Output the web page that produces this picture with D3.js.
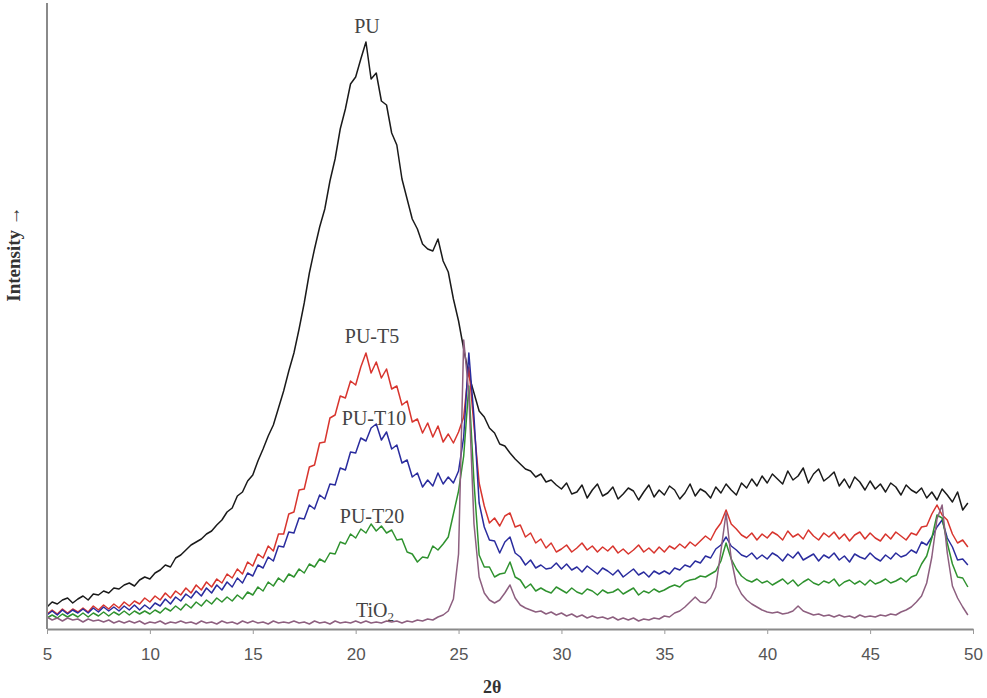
<!DOCTYPE html>
<html>
<head>
<meta charset="utf-8">
<script src="https://cdn.jsdelivr.net/npm/d3@7"></script>
<style>
  html, body { margin: 0; padding: 0; background: #fff; }
  svg { display: block; }
</style>
</head>
<body>
<svg id="chart" width="987" height="698"></svg>
<script>
// =========================
// DATA (XRD, 2θ from 5° in 0.25° steps)
// =========================

const thetaStart = 5;
const thetaStep = 0.25;
const xTicks = [5, 10, 15, 20, 25, 30, 35, 40, 45, 50];

const seriesNames = ["PU", "PU-T5", "PU-T10", "PU-T20", "TiO2"];

const puValues = [22,27,25,29,31,26,30,33,29,35,
  34,38,36,41,40,44,46,43,49,52,
  50,56,59,64,62,71,74,79,84,87,
  90,95,98,104,109,117,121,133,137,148,
  154,168,180,193,204,221,238,258,276,300,
  326,356,380,402,420,448,470,500,520,545,
  552,570,587,550,556,528,524,496,484,450,
  430,410,400,385,380,378,390,368,357,330,
  308,280,254,236,218,212,201,196,185,183,
  176,170,165,160,158,152,155,147,149,144,
  140,146,135,137,144,131,139,145,133,136,
  142,130,135,141,138,129,137,144,132,139,
  134,143,139,130,136,145,133,140,137,131,
  142,136,145,139,134,146,141,150,143,153,
  146,155,150,145,158,149,153,161,146,155,
  160,148,152,157,143,150,141,152,147,139,
  148,140,145,137,146,142,134,144,139,136,
  141,131,137,129,140,134,127,137,119,126];

const puT5Values = [15,19,15,20,16,20,17,21,17,23,
  19,24,20,25,21,27,23,28,25,31,
  27,33,29,36,31,38,34,41,36,44,
  39,47,42,50,46,55,51,60,55,67,
  63,75,71,83,78,95,95,115,117,139,
  140,162,164,186,187,211,214,233,231,248,
  244,262,276,256,267,251,260,240,243,224,
  228,207,210,196,206,192,203,187,195,186,
  197,212,262,203,146,123,106,111,103,113,
  116,102,104,92,96,86,90,81,86,77,
  80,84,77,81,86,79,83,77,82,78,
  83,76,80,75,79,84,77,81,76,82,
  77,83,80,85,81,87,83,88,93,89,
  99,106,119,105,100,94,91,96,89,95,
  91,97,94,89,98,92,95,90,99,93,
  89,96,92,97,90,95,88,94,97,90,
  96,91,88,95,90,97,93,89,96,94,
  102,103,115,124,114,109,95,86,89,82];

const puT10Values = [14,18,14,19,15,19,16,20,16,21,
  17,22,18,22,18,23,19,24,19,24,
  20,26,23,30,25,32,28,35,31,38,
  33,41,36,44,39,47,42,51,46,56,
  53,64,61,72,68,83,82,97,96,111,
  110,124,120,134,130,145,144,161,159,177,
  176,191,188,201,205,189,197,180,184,166,
  169,152,156,142,149,143,156,145,152,146,
  158,192,276,212,126,102,89,88,76,87,
  92,76,72,64,69,61,64,60,61,66,
  60,65,59,62,57,63,59,55,61,58,
  54,59,52,56,60,54,57,52,58,55,
  58,55,61,59,64,62,68,66,73,71,
  80,84,92,83,79,74,72,76,70,74,
  70,76,73,68,75,71,77,69,72,75,
  68,74,71,76,69,73,67,75,72,70,
  76,71,68,74,70,76,72,74,79,76,
  87,84,92,102,109,91,82,69,70,64];

const puT20Values = [11,14,11,15,12,15,12,16,12,16,
  13,17,13,17,14,18,14,18,15,18,
  15,19,16,21,18,23,19,25,21,27,
  23,29,25,31,27,32,28,34,30,37,
  34,42,38,47,43,51,47,55,52,60,
  56,65,62,70,67,76,75,87,85,95,
  91,100,96,105,98,103,96,99,89,90,
  77,75,67,72,71,83,79,85,92,115,
  138,173,243,147,74,62,62,52,55,56,
  67,52,49,41,45,38,41,38,36,42,
  39,36,41,37,35,40,38,34,39,36,
  37,40,35,38,41,34,38,36,40,37,
  39,42,44,42,47,49,50,53,52,55,
  58,68,86,70,60,53,49,47,50,46,
  48,44,47,50,45,49,43,47,50,46,
  44,48,46,50,43,47,49,45,48,44,
  49,45,47,50,46,48,51,47,52,54,
  65,73,91,114,111,86,65,52,51,42];

const tio2Values = [12,9,11,8,11,9,10,7,10,8,
  9,7,9,6,8,6,8,6,8,5,
  7,6,8,5,7,6,8,6,7,5,
  8,6,7,5,8,6,7,5,8,6,
  8,6,7,5,8,6,7,6,8,6,
  7,5,8,6,7,5,8,6,7,6,
  8,6,8,6,7,6,8,7,8,6,
  8,7,9,8,10,9,12,14,18,30,
  75,289,235,105,52,36,29,26,29,36,
  44,31,24,21,19,17,18,15,17,14,
  16,13,15,12,14,11,13,11,12,10,
  12,9,11,9,11,8,10,9,11,10,
  13,12,16,18,22,27,32,27,26,31,
  42,78,116,70,45,35,29,25,22,19,
  17,16,17,15,16,18,23,18,16,14,
  15,13,14,12,14,12,13,11,14,12,
  13,12,14,13,15,14,17,19,22,27,
  33,46,72,110,124,76,43,31,22,14];

// =========================
// SETUP
// =========================

const svg = d3.select("#chart");

const x = d3.scaleLinear().domain([5, 50]).range([47, 973]);
const y = d3.scaleLinear().domain([0, 626]).range([629, 3]);

const series = [
  { name: "PU", values: puValues, color: "#1a1a1a" },
  { name: "PU-T5", values: puT5Values, color: "#d8352e" },
  { name: "PU-T10", values: puT10Values, color: "#2a2c9e" },
  { name: "PU-T20", values: puT20Values, color: "#2f922f" },
  { name: "TiO2", values: tio2Values, color: "#8d5f7f" }
];

const line = d3.line()
  .x((d, i) => x(thetaStart + i * thetaStep))
  .y(d => y(d));

// =========================
// CURVES
// =========================

svg.append("g")
  .selectAll("path")
  .data(series)
  .enter()
  .append("path")
  .attr("d", d => line(d.values))
  .attr("fill", "none")
  .attr("stroke", d => d.color)
  .attr("stroke-width", 1.5)
  .attr("stroke-linejoin", "round");

// =========================
// AXES
// =========================

const xAxis = d3.axisBottom(x)
  .tickValues(xTicks)
  .tickSize(5)
  .tickPadding(14)
  .tickSizeOuter(0);

const gx = svg.append("g")
  .attr("transform", `translate(0, ${y(0)})`)
  .call(xAxis);

gx.select(".domain").attr("stroke", "#8a8a8a").attr("stroke-width", 2);
gx.selectAll(".tick line").attr("stroke", "#9a9a9a");
gx.selectAll(".tick text")
  .style("font-family", "'Liberation Sans', Arial, sans-serif")
  .style("font-size", "17px")
  .style("fill", "#555");

svg.append("line")
  .attr("x1", x(5)).attr("x2", x(5))
  .attr("y1", y(626)).attr("y2", y(0))
  .attr("stroke", "#8a8a8a")
  .attr("stroke-width", 2);

// axis titles
svg.append("text")
  .attr("x", 483)
  .attr("y", 693)
  .text("2θ")
  .style("font-family", "'Liberation Serif', 'Times New Roman', serif")
  .style("font-size", "18px")
  .style("font-weight", "bold")
  .style("fill", "#333");

svg.append("text")
  .attr("transform", "translate(20, 254) rotate(-90)")
  .attr("text-anchor", "middle")
  .text("Intensity →")
  .style("font-family", "'Liberation Serif', 'Times New Roman', serif")
  .style("font-size", "19px")
  .style("font-weight", "bold")
  .style("fill", "#333");

// =========================
// CURVE LABELS
// =========================

const labels = [
  { text: "PU", x: 367, y: 33 },
  { text: "PU-T5", x: 372, y: 343 },
  { text: "PU-T10", x: 374, y: 425 },
  { text: "PU-T20", x: 372, y: 523 }
];

svg.selectAll(".curve-label")
  .data(labels)
  .enter()
  .append("text")
  .attr("class", "curve-label")
  .attr("x", d => d.x)
  .attr("y", d => d.y)
  .attr("text-anchor", "middle")
  .text(d => d.text)
  .style("font-family", "'Liberation Serif', 'Times New Roman', serif")
  .style("font-size", "20px")
  .style("fill", "#444");

const tio2Label = svg.append("text")
  .attr("x", 356)
  .attr("y", 617)
  .style("font-family", "'Liberation Serif', 'Times New Roman', serif")
  .style("font-size", "20px")
  .style("fill", "#444");
tio2Label.append("tspan").text("TiO");
tio2Label.append("tspan").attr("dy", 4).style("font-size", "13px").text("2");
</script>
</body>
</html>
